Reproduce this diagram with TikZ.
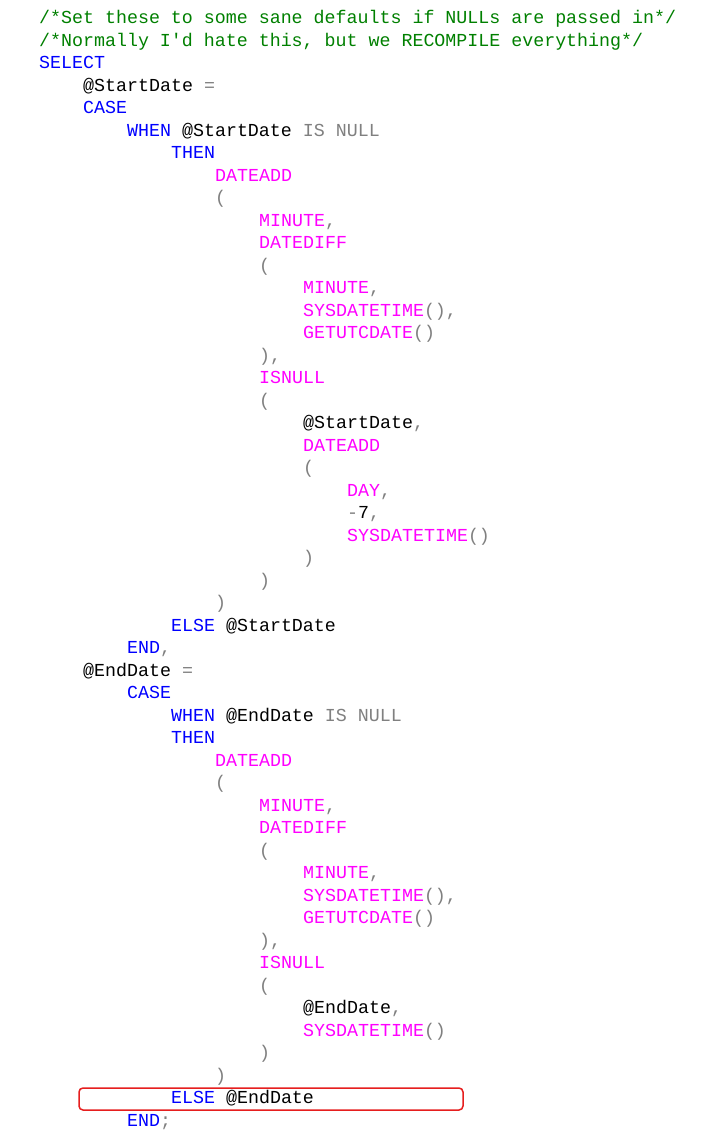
\documentclass[tikz,border=0pt]{standalone}
\usepackage{fontspec}
\setmainfont{Liberation Mono}[Ligatures=TeXOff]
\definecolor{kw}{RGB}{0,0,255}
\definecolor{fn}{RGB}{255,0,255}
\definecolor{gr}{RGB}{128,128,128}
\definecolor{cm}{RGB}{0,128,0}
\definecolor{hl}{RGB}{230,30,30}
\newcommand\K[1]{\textcolor{kw}{#1}}
\newcommand\F[1]{\textcolor{fn}{#1}}
\newcommand\G[1]{\textcolor{gr}{#1}}
\newcommand\C[1]{\textcolor{cm}{#1}}
\begin{document}
\begin{tikzpicture}[x=1pt,y=1pt,
  codeline/.style={anchor=base west,inner sep=0pt,font=\fontsize{18.3}{22}\selectfont}]
\useasboundingbox (0,0) rectangle (711,-1147);
\fill[white] (0,0) rectangle (711,-1147);
\foreach \i/\ind/\txt in {
0/0/{\C{/*Set these to some sane defaults if NULLs are passed in*/}},
1/0/{\C{/*Normally I'd hate this, but we RECOMPILE everything*/}},
2/0/{\K{SELECT}},
3/1/{@StartDate \G{=}},
4/1/{\K{CASE}},
5/2/{\K{WHEN} @StartDate \G{IS NULL}},
6/3/{\K{THEN}},
7/4/{\F{DATEADD}},
8/4/{\G{(}},
9/5/{\F{MINUTE}\G{,}},
10/5/{\F{DATEDIFF}},
11/5/{\G{(}},
12/6/{\F{MINUTE}\G{,}},
13/6/{\F{SYSDATETIME}\G{(),}},
14/6/{\F{GETUTCDATE}\G{()}},
15/5/{\G{),}},
16/5/{\F{ISNULL}},
17/5/{\G{(}},
18/6/{@StartDate\G{,}},
19/6/{\F{DATEADD}},
20/6/{\G{(}},
21/7/{\F{DAY}\G{,}},
22/7/{\G{-}7\G{,}},
23/7/{\F{SYSDATETIME}\G{()}},
24/6/{\G{)}},
25/5/{\G{)}},
26/4/{\G{)}},
27/3/{\K{ELSE} @StartDate},
28/2/{\K{END}\G{,}},
29/1/{@EndDate \G{=}},
30/2/{\K{CASE}},
31/3/{\K{WHEN} @EndDate \G{IS NULL}},
32/3/{\K{THEN}},
33/4/{\F{DATEADD}},
34/4/{\G{(}},
35/5/{\F{MINUTE}\G{,}},
36/5/{\F{DATEDIFF}},
37/5/{\G{(}},
38/6/{\F{MINUTE}\G{,}},
39/6/{\F{SYSDATETIME}\G{(),}},
40/6/{\F{GETUTCDATE}\G{()}},
41/5/{\G{),}},
42/5/{\F{ISNULL}},
43/5/{\G{(}},
44/6/{@EndDate\G{,}},
45/6/{\F{SYSDATETIME}\G{()}},
46/5/{\G{)}},
47/4/{\G{)}},
48/3/{\K{ELSE} @EndDate},
49/2/{\K{END}\G{;}}}
{\node[codeline] (l\i) at ({39+44*\ind},{-(23.5+22.51*\i)}) {\txt};}
\draw[hl,line width=1.5pt,rounded corners=4pt] (79,-1088) rectangle (463,-1110);
\end{tikzpicture}
\end{document}
